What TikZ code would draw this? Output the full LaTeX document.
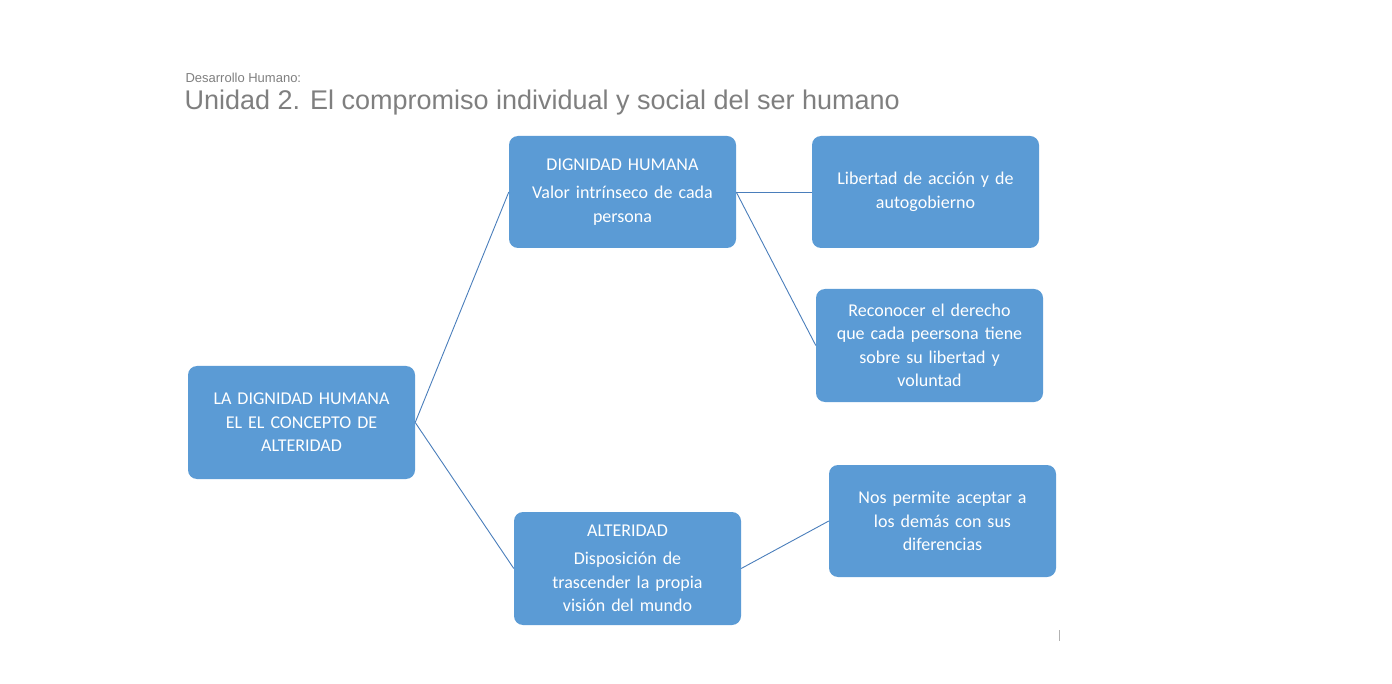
\documentclass[tikz,border=0pt]{standalone}
\usepackage{fontspec}
\setmainfont{Carlito}
\newfontfamily\titlefont{Liberation Sans}
\definecolor{boxblue}{HTML}{5B9BD5}
\definecolor{lineblue}{HTML}{4A7EBB}
\definecolor{titlegray}{HTML}{7F7F7F}
\begin{document}
\begin{tikzpicture}[x=1pt,y=-1pt,
  bx/.style={fill=boxblue,rounded corners=9pt,minimum width=227pt,text width=215pt,align=center,text=white,font=\fontsize{18}{23.5}\selectfont,inner sep=0pt},
  ln/.style={draw=lineblue,line width=0.9pt}]
\useasboundingbox (0,0) rectangle (1392,684);
\node[anchor=west,text=titlegray,font=\titlefont\fontsize{13}{15}\selectfont] (sub) at (182,78) {Desarrollo Humano:};
\node[anchor=west,text=titlegray,font=\titlefont\fontsize{27}{30}\selectfont] (tit) at (181,103) {Unidad 2. El compromiso individual y social del ser humano};
\node[bx,minimum height=113pt] (root) at (301.5,422.5) {LA DIGNIDAD HUMANA\\EL EL CONCEPTO DE\\ALTERIDAD};
\node[bx,minimum height=112pt] (dh) at (622.5,192) {DIGNIDAD HUMANA\\[5pt]Valor intrínseco de cada\\persona};
\node[bx,minimum height=112pt] (lib) at (925.5,192) {Libertad de acción y de\\autogobierno};
\node[bx,minimum height=113pt] (rec) at (929.5,345.5) {Reconocer el derecho\\que cada peersona tiene\\sobre su libertad y\\voluntad};
\node[bx,minimum height=113pt] (alt) at (627.5,568.5) {ALTERIDAD\\[5pt]Disposición de\\trascender la propia\\visión del mundo};
\node[bx,minimum height=112pt] (nos) at (942.5,521) {Nos permite aceptar a\\los demás con sus\\diferencias};
\draw[ln] (root.east) -- (dh.west);
\draw[ln] (root.east) -- (alt.west);
\draw[ln] (dh.east) -- (lib.west);
\draw[ln] (dh.east) -- (rec.west);
\draw[ln] (alt.east) -- (nos.west);
\coordinate (m1) at (1059,630); \coordinate (m2) at (1059,641);
\draw[titlegray!60,line width=0.7pt] (m1) -- (m2);
\end{tikzpicture}
\end{document}
